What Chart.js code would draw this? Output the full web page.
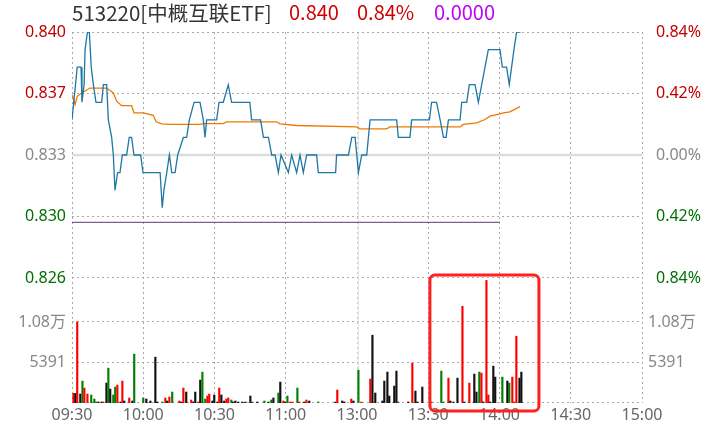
<!DOCTYPE html>
<html><head><meta charset="utf-8">
<script src="https://cdn.jsdelivr.net/npm/chart.js@4"></script>
<style>
body{margin:0;background:#fff;}
.t{position:absolute;top:-1px;font:20px "Noto Sans CJK SC","Noto Sans",sans-serif;white-space:pre;line-height:26px;}
#wrap{position:absolute;left:0;top:0;width:717px;height:439px;}
</style></head><body>
<div id="wrap"><canvas id="c" width="717" height="439"></canvas></div>
<span class="t" style="left:72px;color:#333;font-size:20.5px">513220[中概互联ETF]</span><span class="t" style="left:289px;color:#d00000">0.840</span><span class="t" style="left:357px;color:#d00000">0.84%</span><span class="t" style="left:434px;color:#c000ff">0.0000</span>
<script>
const timeLabels=["09:30","10:00","10:30","11:00","13:00","13:30","14:00","14:30","15:00"];
const timeTicks=[0,30,60,90,120,150,180,210,240];
const priceTicks=[0.826,0.8295,0.833,0.8365,0.840];
const priceLabels=["0.826","0.830","0.833","0.837","0.840"];
const pctLabels=["0.84%","0.42%","0.00%","0.42%","0.84%"];
const volTicks=[5391,10782];
const volLabels=["5391","1.08万"];
const prevClose=0.833;
const avgLevel=0.82917;
const priceX=[0,2.2,3.8,4.2,5.1,5.5,6.5,7.3,8.1,9,10.1,12.5,13.2,14.6,15.3,16.7,17.4,18.1,19.2,20.2,21.2,23,24.1,25.1,26.1,28.9,29.9,37.1,38,38.7,39.9,41,42,43.4,44.5,46.9,48.3,49.4,51.4,53.2,53.9,55.3,56,56.7,60.9,61.9,63.7,65.8,67.2,74.9,75.6,79.4,80.6,82.7,84.1,85.5,86.9,88,91.1,92.5,94.6,96,97.4,98.8,103,103.7,111,111.4,116.4,117.8,119.2,120.6,122,124.1,125.5,136.7,137.4,142.3,143,150.5,151.4,153.5,155,156.4,157.5,158.5,163.4,164.1,166.2,167.3,169.7,171.1,172.5,173.9,175.3,180.2,181.2,183,184.1,185.1,186.1,187.2,188.9];
const priceY=[.835,.838,.838,.836,.837,.839,.840,.840,.838,.837,.836,.836,.837,.837,.835,.834,.833,.831,.832,.832,.833,.833,.834,.834,.833,.833,.832,.832,.830,.831,.832,.833,.832,.832,.833,.834,.834,.835,.836,.836,.836,.835,.834,.835,.835,.836,.836,.837,.836,.836,.835,.835,.834,.834,.833,.833,.832,.833,.832,.833,.832,.833,.832,.833,.833,.832,.832,.833,.833,.834,.834,.832,.833,.833,.835,.835,.834,.834,.835,.835,.836,.836,.835,.834,.834,.835,.835,.836,.836,.837,.837,.836,.837,.838,.839,.839,.838,.838,.837,.838,.839,.840,.840];
const avgX=[0,1.3,2.2,4.1,7.6,14.6,17.4,18.8,20.9,25.1,26.1,30,34.2,35.4,37.8,41.3,53.9,55.3,63.7,65.1,86.2,87.6,94.6,119.9,121.3,132.5,133.9,163.4,164.8,170.4,173.9,176,180.2,181.6,184.4,188.6];
const avgY=[.83643,.83587,.83634,.83653,.83681,.83681,.83653,.83606,.83581,.83581,.8354,.8354,.83526,.83489,.83477,.83474,.83474,.83479,.83479,.83489,.83489,.83477,.83468,.8346,.83449,.83449,.8346,.8346,.83474,.83483,.83502,.83521,.83534,.8354,.83545,.83575];
const volX=[0.6,1.4,2.2,3.5,4.4,5.2,6.5,8.1,9.4,10.2,11.1,12.4,13.2,14.5,15.3,16.1,17.4,18.2,19.1,20.4,21.2,22.0,24.1,25.4,26.2,30.0,31.3,33.0,35.1,35.9,38.0,39.3,40.1,41.0,42.2,45.2,46.0,46.9,48.1,50.2,51.1,51.9,53.2,54.0,54.9,56.1,57.0,57.8,59.1,59.9,61.2,62.0,62.9,64.1,65.0,65.8,67.1,67.9,68.8,70.0,71.7,73.0,75.1,75.9,78.0,81.0,82.7,83.9,84.8,86.9,87.7,89.0,89.8,90.7,91.9,92.8,94.9,95.7,97.8,98.7,99.9,103.7,110.9,111.7,113.8,114.7,117.6,118.5,120.6,121.8,125.6,126.5,127.7,130.7,131.5,132.8,133.6,135.7,136.6,137.4,141.6,143.3,144.6,145.4,147.5,151.3,155.5,156.4,158.5,159.3,160.6,162.3,164.4,165.2,167.3,169.4,170.3,171.5,172.4,173.2,174.5,175.3,176.1,177.4,178.2,181.2,183.3,184.1,185.4,186.2,187.1,188.4,189.2];
const volY=[1282,1282,10782,1193,2917,1989,1193,1061,530,133,133,133,133,2651,4640,1856,1061,2121,2386,133,2917,265,663,265,6496,663,530,265,6098,133,133,663,265,795,1458,265,133,1989,1458,398,133,1458,133,3049,4110,530,928,1193,265,1061,133,1989,1061,265,530,663,398,133,265,133,133,133,928,133,133,265,133,398,663,1326,2784,265,133,928,133,133,1989,133,133,398,265,133,133,1723,265,133,530,265,4375,133,3182,9015,1326,265,2917,4110,928,2254,4242,133,133,5303,1591,133,2121,133,4242,133,3314,265,133,3314,12859,133,2651,3845,1458,4110,3977,133,16306,1061,133,4905,3447,3447,2917,2651,3447,133,8882,3314,4110];
const volDir=["r","k","r","k","g","r","r","g","g","g","k","k","r","k","g","k","g","g","r","k","r","k","r","k","g","g","k","k","k","k","g","r","k","r","g","r","k","r","k","r","k","k","r","k","g","g","r","r","k","k","k","r","k","k","r","r","g","k","k","k","k","k","k","g","k","g","k","g","k","g","k","r","k","g","r","r","g","r","k","r","k","g","k","r","k","k","r","k","g","r","r","k","k","k","k","k","k","k","k","g","k","r","k","k","k","r","g","g","r","k","k","k","r","k","r","k","k","g","r","k","r","r","k","k","k","g","k","g","r","r","r","k","k"];
const dirColor={r:"#ff0000",g:"#008000",k:"#111111"};
const pts=(xs,ys)=>xs.map((x,i)=>({x,y:ys[i]}));
const FONT={family:'"Noto Sans","Noto Sans CJK SC",sans-serif',size:16};
const priceColors=["#007000","#007000","#888888","#c00000","#c00000"];
const DASH=[2,3];
const boxPlugin={id:'box',afterDraw(ch){const c=ch.ctx,xs=ch.scales.x;const x1=xs.getPixelForValue(150.7),x2=xs.getPixelForValue(196.6);
 c.save();c.strokeStyle='#ff2020';c.lineWidth=3;c.beginPath();c.roundRect(x1,275,x2-x1,136,5);c.stroke();c.restore();}};
const extra={id:'extra',
 beforeDatasetsDraw(ch){const c=ch.ctx,a=ch.chartArea,y=ch.scales.y.getPixelForValue(prevClose),x=ch.scales.x.getPixelForValue(120);
   c.save();c.strokeStyle='#dddddd';c.lineWidth=2.5;c.beginPath();c.moveTo(a.left,y);c.lineTo(a.right,y);c.stroke();
   c.lineWidth=1;c.strokeStyle='#e4e4e4';c.beginPath();c.moveTo(x+1.5,a.top);c.lineTo(x+1.5,a.bottom);c.stroke();
   c.strokeStyle='#aaaaaa';c.setLineDash(DASH);c.beginPath();c.moveTo(a.left,a.bottom-0.5);c.lineTo(a.right,a.bottom-0.5);c.moveTo(a.left,a.top+0.5);c.lineTo(a.right,a.top+0.5);c.stroke();c.restore();},
 afterDraw(ch){const c=ch.ctx,v=ch.scales.v,a=ch.chartArea;c.save();c.font='16px "Noto Sans","Noto Sans CJK SC",sans-serif';c.fillStyle='#888';c.textBaseline='middle';
   volTicks.forEach((t,i)=>{const y=v.getPixelForValue(t);c.textAlign='right';c.fillText(volLabels[i],a.left-6,y);c.textAlign='left';c.fillText(volLabels[i],a.right+6,y);});c.restore();}};
new Chart(document.getElementById('c'),{
 data:{datasets:[
  {type:'line',data:pts(priceX,priceY),borderColor:'#1f77a4',borderWidth:1.3,pointRadius:0,yAxisID:'y',xAxisID:'x',order:1},
  {type:'line',data:pts(avgX,avgY),borderColor:'#f07800',borderWidth:1.3,pointRadius:0,yAxisID:'y',xAxisID:'x',order:2},
  {type:'line',data:[{x:0,y:avgLevel},{x:180.2,y:avgLevel}],borderColor:'#5a3a6a',borderWidth:1,pointRadius:0,yAxisID:'y',xAxisID:'x',order:3},
  {type:'bar',data:pts(volX,volY),backgroundColor:volX.map((_,i)=>dirColor[volDir[i]]||'#111'),barThickness:1.5,yAxisID:'v',xAxisID:'x',order:4}
 ]},
 options:{animation:false,responsive:false,events:[],
  layout:{padding:{top:32,bottom:0,left:0,right:0}},
  plugins:{legend:{display:false},tooltip:{enabled:false}},
  scales:{
   x:{type:'linear',min:0,max:240,offset:false,afterBuildTicks:s=>{s.ticks=timeTicks.map(v=>({value:v}));},
      afterFit:s=>{s.height=36;},
      ticks:{callback:(v)=>timeLabels[timeTicks.indexOf(v)],color:'#666',font:FONT,maxRotation:0,autoSkip:false,padding:3},
      grid:{color:(c)=>c.tick&&c.tick.value===120?'#cccccc':'#aaaaaa',lineWidth:1,tickLength:0,offset:false},border:{display:false,dash:DASH}},
   y:{type:'linear',position:'left',min:0.818886,max:0.840,
      afterBuildTicks:s=>{s.ticks=priceTicks.map(v=>({value:v}));},afterFit:s=>{s.width=72;},
      ticks:{callback:(v)=>priceLabels[priceTicks.indexOf(v)],color:(c)=>priceColors[priceTicks.indexOf(c.tick.value)],font:FONT,padding:6},
      grid:{color:'#aaaaaa',drawTicks:false},border:{display:false,dash:DASH}},
   yr:{type:'linear',position:'right',min:0.818886,max:0.840,
      afterBuildTicks:s=>{s.ticks=priceTicks.map(v=>({value:v}));},afterFit:s=>{s.width=75;},
      ticks:{callback:(v)=>pctLabels[priceTicks.indexOf(v)],color:(c)=>priceColors[priceTicks.indexOf(c.tick.value)],font:FONT,padding:6},
      grid:{display:false},border:{display:false}},
   v:{type:'linear',position:'left',min:0,max:49350,
      afterBuildTicks:s=>{s.ticks=volTicks.map(v=>({value:v}));},afterFit:s=>{s.width=0;},
      ticks:{display:false},grid:{color:'#aaaaaa',drawTicks:false},border:{display:false,dash:DASH}}
  }},
 plugins:[boxPlugin,extra]
});
</script></body></html>
